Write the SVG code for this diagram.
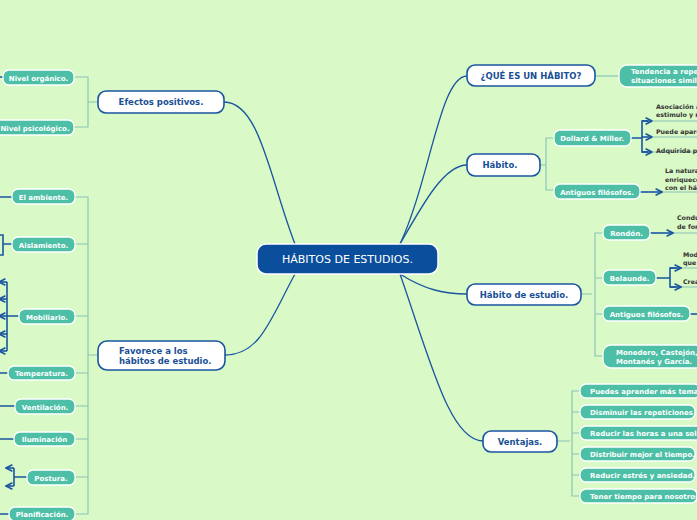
<svg xmlns="http://www.w3.org/2000/svg" width="697" height="520" viewBox="0 0 697 520">
<defs>
<marker id="ar" viewBox="0 0 10 10" refX="9" refY="5" markerWidth="5" markerHeight="5" orient="auto"><path d="M1,1 L9,5 L1,9" fill="none" stroke="#1a56a0" stroke-width="2"/></marker>
</defs>
<style>
text{font-family:Verdana,"DejaVu Sans",sans-serif;font-weight:bold}
.m rect{fill:#fff;stroke:#1a56a0;stroke-width:1.6}
.m text{fill:#1a4f96;font-size:8.5px}
.s rect{fill:#4dbfa6;stroke:#fff;stroke-width:1.3}
.s text{fill:#fff;font-size:7px}
.t{fill:#333;font-size:6.3px}
.c{fill:none;stroke:#1a56a0;stroke-width:1.3}
.l{fill:none;stroke:#8cc4b8;stroke-width:1.2}
.a{fill:none;stroke:#1a56a0;stroke-width:1.6}
</style>
<rect width="697" height="520" fill="#d9f9c6"/>
<g id="connectors">
<path class="c" d="M295,244 C270,180 260,102 224,102"/>
<path class="c" d="M295,274 C270,320 260,355 225,355"/>
<path class="c" d="M400,244 C430,180 440,76 467,76"/>
<path class="c" d="M400,244 C425,200 445,165 467,165"/>
<path class="c" d="M400,274 C425,290 445,294 467,294"/>
<path class="c" d="M400,274 C430,360 450,441 483,441"/>
<path class="l" d="M595,76 H619"/>
<path class="l" d="M540,165 H546 M554,138 H546 V190 H554"/>
<path class="a" d="M631,138 H642 M648,121 H642 V152 H648"/>
<path class="a" d="M642,121 H652" marker-end="url(#ar)"/><path class="a" d="M642,137 H652" marker-end="url(#ar)"/><path class="a" d="M642,152 H652" marker-end="url(#ar)"/>
<path class="l" d="M652,121 H697 M652,137 H697 M652,152 H697 M660,192 H697 M673,233 H697 M680,268 H697 M680,287 H697"/>
<path class="a" d="M640,192 H662" marker-end="url(#ar)"/>
<path class="l" d="M581,294 H592 M603,233 H595 V356 H603 M595,278 H603 M595,314 H603"/>
<path class="a" d="M650,233 H673" marker-end="url(#ar)"/>
<path class="a" d="M656,278 H670 M676,268 H670 V287 H676"/>
<path class="a" d="M670,268 H681" marker-end="url(#ar)"/><path class="a" d="M670,287 H681" marker-end="url(#ar)"/>
<path class="a" d="M690,314 H697"/>
<path class="l" d="M557,441 H570 M580,391 H572 V496 H580 M572,412 H580 M572,433 H580 M572,454 H580 M572,475 H580"/>
<path class="l" d="M98,102 H88 M74,77 H88 V127 H74"/>
<path class="l" d="M98,355 H88 M75,197 H88 V514 H75 M75,244 H88 M75,316 H88 M75,373 H88 M75,406 H88 M75,439 H88 M75,477 H88"/>
<path class="a" d="M3,77 H0 M12,197 H0 M8,373 H0 M15,406 H0 M14,439 H0 M9,514 H0"/>
<path class="a" d="M12,244 H3 M0,235 H3 V255 H0"/>
<path class="a" d="M19,316 H7 M7,282 V351"/>
<path class="a" d="M7,282 H-1" marker-end="url(#ar)"/><path class="a" d="M7,299 H-1" marker-end="url(#ar)"/><path class="a" d="M7,316 H-1" marker-end="url(#ar)"/><path class="a" d="M7,334 H-1" marker-end="url(#ar)"/><path class="a" d="M7,351 H-1" marker-end="url(#ar)"/>
<path class="a" d="M27,477 H14 M14,468 V486"/>
<path class="a" d="M14,468 H6" marker-end="url(#ar)"/><path class="a" d="M14,486 H6" marker-end="url(#ar)"/>
</g>
<g id="central"><rect x="257" y="244" width="181" height="30" rx="9" fill="#0b4f9c" stroke="#fff" stroke-width="1.5"/><text x="347.5" y="263" text-anchor="middle" fill="#fff" font-size="11" style="font-weight:normal">HÁBITOS DE ESTUDIOS.</text></g>
<g id="que" class="m"><rect x="467" y="65" width="128" height="21" rx="8"/><text x="531" y="79" text-anchor="middle">¿QUÉ ES UN HÁBITO?</text></g>
<g id="tendencia" class="s"><rect x="619" y="65" width="90" height="22" rx="8"/><text x="631" y="74">Tendencia a repet</text><text x="631" y="83">situaciones simila</text></g>
<g id="habito" class="m"><rect x="467" y="154" width="73" height="22" rx="8"/><text x="500" y="168" text-anchor="middle">Hábito.</text></g>
<g id="dollard" class="s"><rect x="554" y="130" width="77" height="16" rx="6"/><text x="592" y="141" text-anchor="middle">Dollard &amp; Miller.</text></g>
<text class="t" x="656" y="109">Asociación a</text><text class="t" x="656" y="117">estimulo y r</text>
<text class="t" x="656" y="134">Puede apare</text><text class="t" x="656" y="153">Adquirida po</text>
<g id="antiguos1" class="s"><rect x="554" y="184" width="86" height="15" rx="6"/><text x="597" y="194.5" text-anchor="middle">Antiguos filósofos.</text></g>
<text class="t" x="665" y="173">La natura</text><text class="t" x="665" y="182">enriquece</text><text class="t" x="665" y="190">con el há</text>
<g id="habest" class="m"><rect x="467" y="284" width="114" height="21" rx="8"/><text x="524" y="298" text-anchor="middle">Hábito de estudio.</text></g>
<g id="rondon" class="s"><rect x="603" y="225" width="47" height="15" rx="6"/><text x="626.5" y="235.5" text-anchor="middle">Rondón.</text></g>
<text class="t" x="677" y="220">Condu</text><text class="t" x="677" y="229">de for</text>
<g id="belaunde" class="s"><rect x="603" y="270" width="53" height="15" rx="6"/><text x="629.5" y="280.5" text-anchor="middle">Belaunde.</text></g>
<text class="t" x="683" y="257">Mod</text><text class="t" x="683" y="265">que</text><text class="t" x="683" y="284">Crea</text>
<g id="antiguos2" class="s"><rect x="603" y="306" width="87" height="15" rx="6"/><text x="646.5" y="316.5" text-anchor="middle">Antiguos filósofos.</text></g>
<g id="monedero" class="s"><rect x="603" y="345" width="100" height="23" rx="8"/><text x="616" y="355">Monedero, Castejón,</text><text x="616" y="364">Montanés y García.</text></g>
<g id="ventajas" class="m"><rect x="483" y="431" width="74" height="21" rx="8"/><text x="520" y="445" text-anchor="middle">Ventajas.</text></g>
<g id="v1" class="s"><rect x="580" y="384" width="120" height="14" rx="6"/><text x="590" y="394">Puedes aprender más temas.</text></g>
<g id="v2" class="s"><rect x="580" y="405" width="115" height="14" rx="6"/><text x="590" y="415">Disminuir las repeticiones.</text></g>
<g id="v3" class="s"><rect x="580" y="426" width="125" height="14" rx="6"/><text x="590" y="436">Reducir las horas a una sola t</text></g>
<g id="v4" class="s"><rect x="580" y="447" width="115" height="14" rx="6"/><text x="590" y="457">Distribuir mejor el tiempo.</text></g>
<g id="v5" class="s"><rect x="580" y="468" width="115" height="14" rx="6"/><text x="590" y="478">Reducir estrés y ansiedad.</text></g>
<g id="v6" class="s"><rect x="580" y="489" width="117" height="14" rx="6"/><text x="590" y="499">Tener tiempo para nosotros.</text></g>
<g id="efectos" class="m"><rect x="98" y="91" width="126" height="22" rx="8"/><text x="161" y="105" text-anchor="middle">Efectos positivos.</text></g>
<g id="organico" class="s"><rect x="3" y="70" width="71" height="15" rx="6"/><text x="38.5" y="80.5" text-anchor="middle">Nivel orgánico.</text></g>
<g id="psicologico" class="s"><rect x="-5" y="120" width="79" height="15" rx="6"/><text x="35" y="130.5" text-anchor="middle">Nivel psicológico.</text></g>
<g id="favorece" class="m"><rect x="98" y="341" width="127" height="29" rx="9"/><text x="119" y="354">Favorece a los</text><text x="119" y="364">hábitos de estudio.</text></g>
<g id="ambiente" class="s"><rect x="12" y="189" width="63" height="15" rx="6"/><text x="43.5" y="199.5" text-anchor="middle">El ambiente.</text></g>
<g id="aislamiento" class="s"><rect x="12" y="237" width="63" height="15" rx="6"/><text x="43.5" y="247.5" text-anchor="middle">Aislamiento.</text></g>
<g id="mobiliario" class="s"><rect x="19" y="309" width="56" height="15" rx="6"/><text x="47" y="319.5" text-anchor="middle">Mobiliario.</text></g>
<g id="temperatura" class="s"><rect x="8" y="366" width="67" height="14" rx="6"/><text x="41.5" y="376" text-anchor="middle">Temperatura.</text></g>
<g id="ventilacion" class="s"><rect x="15" y="399" width="60" height="15" rx="6"/><text x="45" y="409.5" text-anchor="middle">Ventilación.</text></g>
<g id="iluminacion" class="s"><rect x="14" y="432" width="61" height="14" rx="6"/><text x="44.5" y="442" text-anchor="middle">Iluminación</text></g>
<g id="postura" class="s"><rect x="27" y="470" width="48" height="15" rx="6"/><text x="51" y="480.5" text-anchor="middle">Postura.</text></g>
<g id="planificacion" class="s"><rect x="9" y="507" width="66" height="14" rx="6"/><text x="42" y="517" text-anchor="middle">Planificación.</text></g>
</svg>
